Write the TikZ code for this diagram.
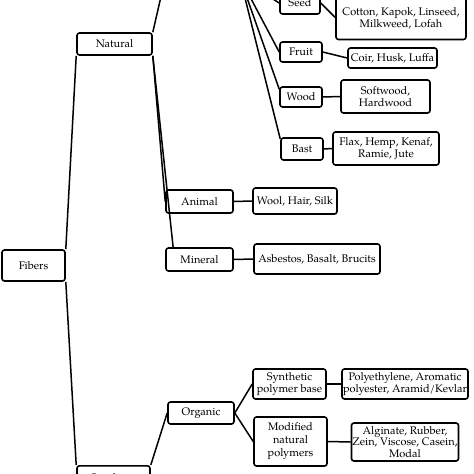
\documentclass[tikz,border=0pt]{standalone}
\usepackage{fontspec}
\setmainfont{TeX Gyre Pagella}
\begin{document}
\begin{tikzpicture}[x=1pt,y=-1pt,
  box/.style={draw, line width=1.6pt, rounded corners=2.5pt, align=center, inner sep=1pt,
    font=\fontsize{11}{11.5}\selectfont},
  conn/.style={line width=1.5pt}]
\useasboundingbox (0,0) rectangle (474,474);
\clip (0,0) rectangle (474,474);
% coordinates of the (off-picture) parent nodes
\coordinate (plant) at (240,-22);
\coordinate (plantsw) at (164.8,-20);
% level 0
\node[box, minimum width=63pt, minimum height=31pt] (fibers) at (33.5,265.5) {Fibers};
% level 1
\node[box, minimum width=75pt, minimum height=22pt] (natural) at (114.5,44) {Natural};
\node[box, minimum width=73pt, minimum height=26pt, anchor=north] (synthetic) at (113.5,465) {Synthetic};
% level 2
\node[box, minimum width=67pt, minimum height=23pt] (animal) at (199.5,201.5) {Animal};
\node[box, minimum width=67pt, minimum height=23pt] (mineral) at (199.5,259.5) {Mineral};
\node[box, minimum width=66pt, minimum height=22pt] (organic) at (201,413) {Organic};
% plant children
\node[box, minimum width=40pt, minimum height=22pt] (seed) at (300,3) {Seed};
\node[box, minimum width=42pt, minimum height=20pt] (fruit) at (301,52) {Fruit};
\node[box, minimum width=42pt, minimum height=20pt] (wood) at (301,97) {Wood};
\node[box, minimum width=42pt, minimum height=22pt] (bast) at (302,149) {Bast};
% leaves
\node[box, minimum width=130pt, minimum height=44pt] (cotton) at (401,17.5) {\\[-2pt]Cotton, Kapok, Linseed,\\Milkweed, Lofah};
\node[box, minimum width=89pt, minimum height=20pt] (coir) at (392.5,58) {Coir, Husk, Luffa};
\node[box, minimum width=89pt, minimum height=33pt] (softwood) at (385.5,96.5) {Softwood,\\Hardwood};
\node[box, minimum width=106pt, minimum height=33pt] (flax) at (386,148.5) {Flax, Hemp, Kenaf,\\Ramie, Jute};
\node[box, minimum width=84pt, minimum height=26pt] (wool) at (295,201) {Wool, Hair, Silk};
\node[box, minimum width=126pt, minimum height=30pt] (asbestos) at (317,259) {Asbestos, Basalt, Brucits};
\node[box, minimum width=73pt, minimum height=30pt] (spb) at (289.5,384) {Synthetic\\polymer base};
\node[box, minimum width=126pt, minimum height=30pt] (poly) at (405,384) {Polyethylene, Aromatic\\polyester, Aramid/Kevlar};
\node[box, minimum width=73pt, minimum height=49pt, font=\fontsize{11}{13}\selectfont] (modified) at (290.5,441.5) {Modified\\natural\\polymers};
\node[box, minimum width=104pt, minimum height=38pt] (alginate) at (405,442) {Alginate, Rubber,\\Zein, Viscose, Casein,\\Modal};
% connectors
\draw[conn] (fibers.north east) -- (natural.south west);
\draw[conn] (fibers.south east) -- (synthetic.north west);
\draw[conn] (natural.north east) -- (plantsw);
\draw[conn] (natural.south east) -- (animal.west);
\draw[conn] (natural.south east) -- (mineral.155);
\draw[conn] (plant) -- (seed.west);
\draw[conn] (plant) -- (fruit.west);
\draw[conn] (plant) -- (wood.160);
\draw[conn] (plant) -- (bast.155);
\draw[conn] (seed.east) -- (cotton.west);
\draw[conn] (fruit.east) -- (coir.west);
\draw[conn] (wood.east) -- (softwood.west);
\draw[conn] (bast.east) -- (flax.west);
\draw[conn] (animal.east) -- (wool.west);
\draw[conn] (mineral.east) -- (asbestos.west);
\draw[conn] (synthetic.north east) -- (organic.west);
\draw[conn] (organic.east) -- (spb.west);
\draw[conn] (organic.east) -- (modified.west);
\draw[conn] (spb.east) -- (poly.west);
\draw[conn] (modified.east) -- (alginate.west);
\end{tikzpicture}
\end{document}
